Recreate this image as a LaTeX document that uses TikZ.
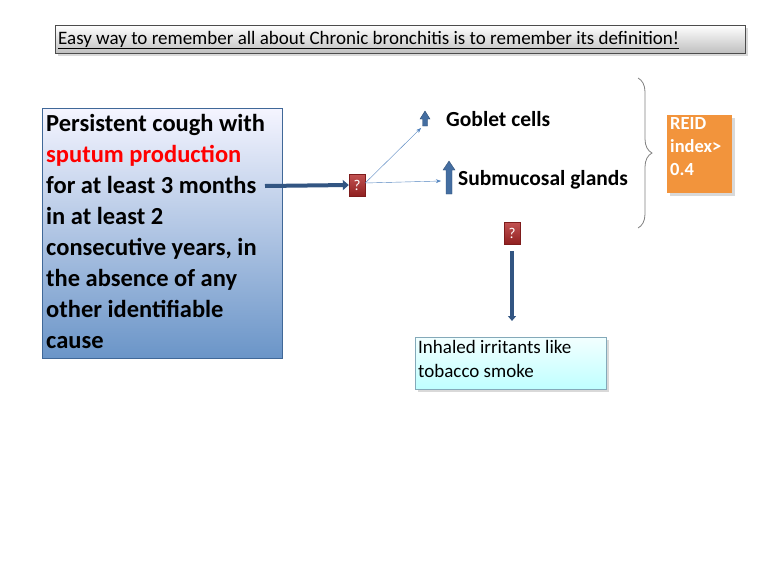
\documentclass[tikz,border=0pt]{standalone}
\usepackage{fontspec}
\setmainfont{Carlito}
\usetikzlibrary{decorations.pathreplacing,arrows.meta,shadows}
\definecolor{arrowblue}{RGB}{50,85,130}
\definecolor{thinblue}{RGB}{80,130,190}
\definecolor{qred}{RGB}{180,40,40}
\definecolor{orangebox}{RGB}{242,148,60}
\tikzset{
 qbox/.style={draw=qred!70!black,top color=qred!80!white,bottom color=qred!80!black,minimum width=16pt,minimum height=22pt,inner sep=0pt,text=white,font=\fontsize{15}{15}\selectfont},
 upfill/.style={fill=thinblue!85!black,draw=thinblue!60!black,line width=0.4pt},
 bigtxt/.style={font=\bfseries\fontsize{21.5}{24}\selectfont,anchor=west,inner sep=0pt},
}
\begin{document}
\begin{tikzpicture}[x=1pt,y=-1pt]
\useasboundingbox (0,0) rectangle (768,576);
\node[draw=black!70,top color=white,bottom color=black!25,minimum width=690pt,minimum height=28pt,anchor=north west,drop shadow={opacity=0.3}] (title) at (55,25) {};
\node[anchor=west,inner sep=0pt,font=\fontsize{19}{19}\selectfont] (titletext) at (58,40) {\underline{Easy way to remember all about Chronic bronchitis is to remember its definition!}};
\node[draw=thinblue!80!black,top color=blue!4!white,bottom color=thinblue!85!white,minimum width=240pt,minimum height=250pt,anchor=north west] (def) at (42,108) {};
\node[anchor=north west,inner sep=0pt,align=left,font=\bfseries\fontsize{24.5}{31}\selectfont] (deftext) at (46,114) {Persistent cough with\\\textcolor{red}{sputum production}\\for at least 3 months\\in at least 2\\consecutive years, in\\the absence of any\\other identifiable\\cause};
\node[qbox] (q1) at (357,185) {?};
\coordinate (a1) at (265,186);
\draw[arrowblue,line width=4pt,-{Triangle[length=6pt,width=10pt]}] (a1) -- (q1.west);
% up block arrows
\draw[upfill] (422.5,126) -- (422.5,119) -- (420,119) -- (425,111) -- (430,119) -- (427.5,119) -- (427.5,126) -- cycle;
\draw[upfill] (446,194) -- (446,170) -- (443,170) -- (449,161) -- (455,170) -- (452,170) -- (452,194) -- cycle;
\coordinate (u1) at (421,128);
\coordinate (u2) at (441,181);
\node[bigtxt] (goblet) at (446,119) {Goblet cells};
\node[bigtxt] (sub) at (458,180) {Submucosal glands};
\draw[thinblue,-{Stealth[length=5pt]}] (q1.east) ++(0,-2) -- (u1);
\draw[thinblue,-{Stealth[length=5pt]}] (q1.east) ++(0,-2) -- (u2);
\draw[black!50,thick,decorate,decoration={brace,mirror,amplitude=14pt,aspect=0.5}] (638,228) -- (638,78);
\node[fill=orangebox,text=white,minimum width=65pt,minimum height=78pt,anchor=north west,drop shadow={opacity=0.3}] (reid) at (667,115) {};
\node[anchor=north west,inner sep=0pt,align=left,text=white,font=\bfseries\fontsize{18.5}{23}\selectfont] (reidtext) at (670,117) {REID\\index>\\0.4};
\node[qbox] (q2) at (512,233) {?};
\coordinate (a2) at (512,321);
\draw[arrowblue,line width=4pt,-{Triangle[length=5pt,width=8pt]}] (q2.south) ++(0,7) -- (a2);
\node[draw=cyan!50!black!60,top color=cyan!5,bottom color=cyan!25,minimum width=191pt,minimum height=52pt,anchor=north west,drop shadow={opacity=0.3}] (inh) at (415,337) {};
\node[anchor=north west,inner sep=0pt,align=left,font=\fontsize{19}{24}\selectfont] (inhtext) at (418,340) {Inhaled irritants like\\tobacco smoke};
\end{tikzpicture}
\end{document}
